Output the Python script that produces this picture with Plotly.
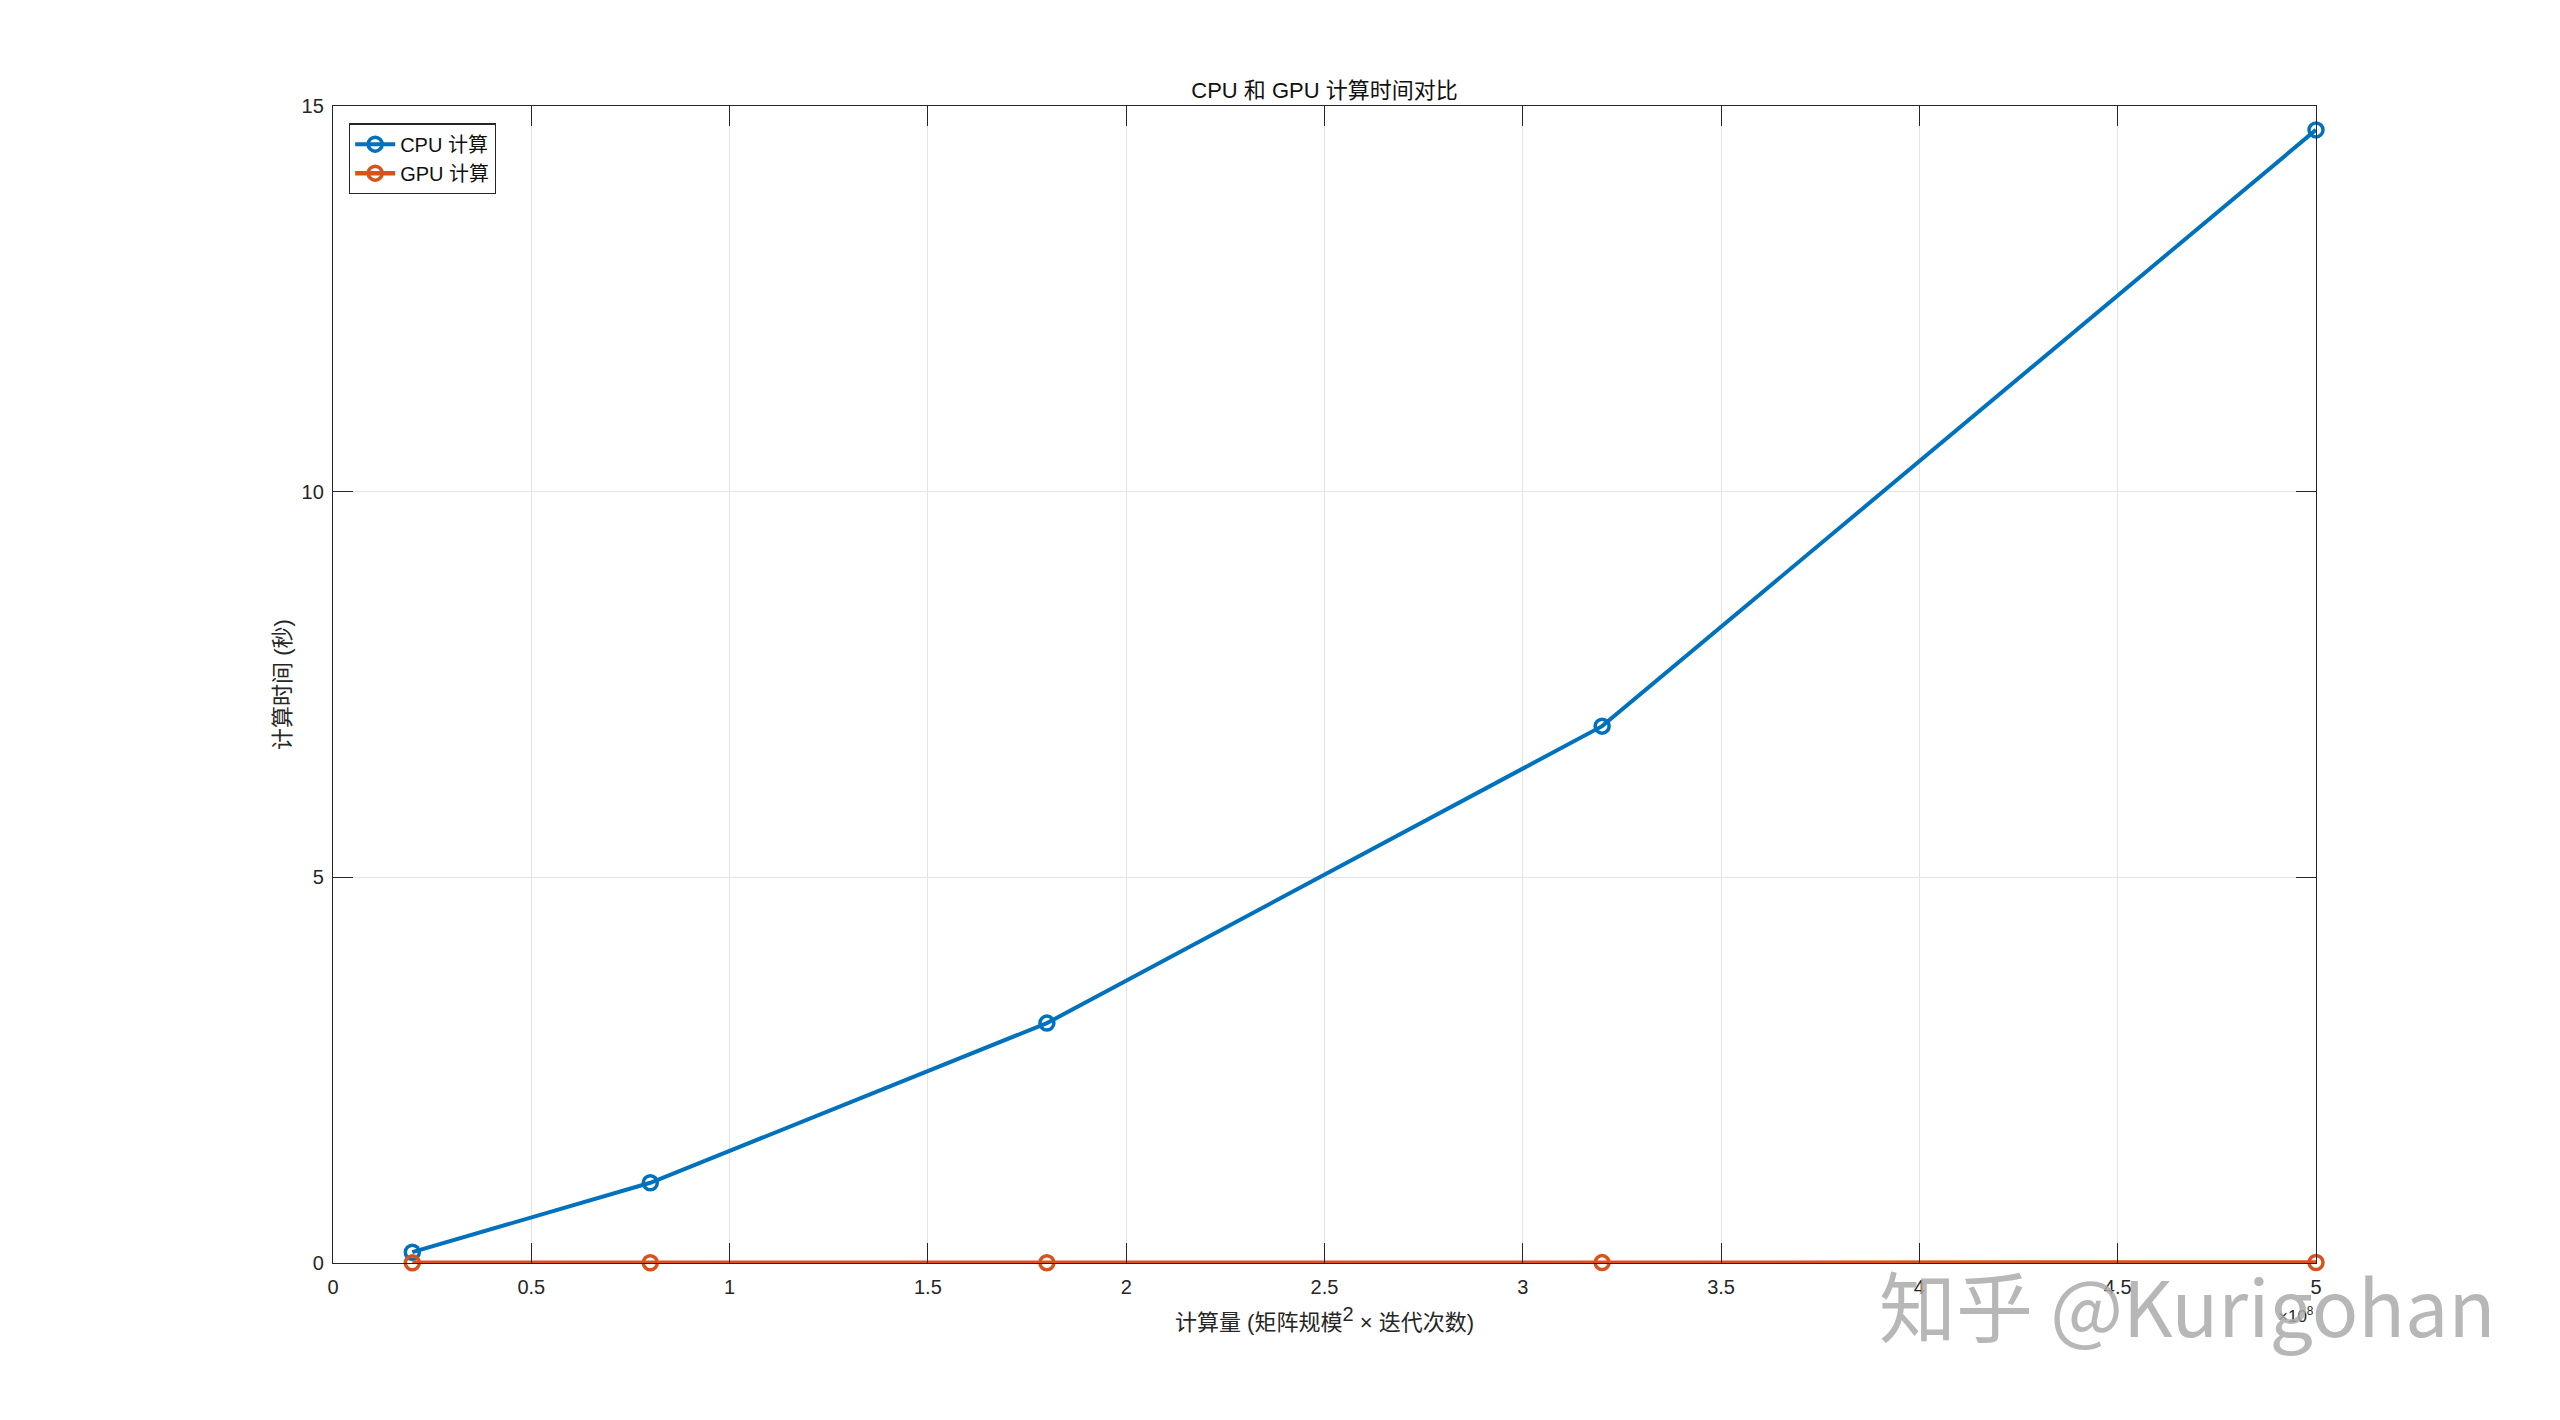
import plotly.graph_objects as go

# Data (x in raw units: matrix size^2 * iterations)
work = [2e7, 8e7, 1.8e8, 3.2e8, 5e8]
cpu_time = [0.14, 1.04, 3.11, 6.96, 14.69]
gpu_time = [0.002, 0.003, 0.004, 0.005, 0.006]

x_tickvals = [0, 0.5e8, 1e8, 1.5e8, 2e8, 2.5e8, 3e8, 3.5e8, 4e8, 4.5e8, 5e8]
x_ticktext = ["0", "0.5", "1", "1.5", "2", "2.5", "3", "3.5", "4", "4.5", "5"]
y_tickvals = [0, 5, 10, 15]
y_ticktext = ["0", "5", "10", "15"]

FONT = "Liberation Sans, Arial, Noto Sans CJK SC, sans-serif"
BLUE = "#0072BD"
ORANGE = "#D95319"

fig = go.Figure()
fig.add_trace(go.Scatter(
    x=work, y=cpu_time, mode="lines+markers", name="CPU 计算",
    line=dict(color=BLUE, width=4),
    marker=dict(symbol="circle-open", size=14, color=BLUE, line=dict(width=3.5, color=BLUE)),
    cliponaxis=False,
))
fig.add_trace(go.Scatter(
    x=work, y=gpu_time, mode="lines+markers", name="GPU 计算",
    line=dict(color=ORANGE, width=4.5),
    marker=dict(symbol="circle-open", size=14, color=ORANGE, line=dict(width=3.5, color=ORANGE)),
    cliponaxis=False,
))

axis_common = dict(
    showline=True, linecolor="#262626", linewidth=1.3, mirror="ticks",
    ticks="inside", ticklen=20, tickwidth=1.3, tickcolor="#262626",
    showgrid=True, gridcolor="#e3e3e3", gridwidth=1.3, zeroline=False,
    tickfont=dict(family=FONT, size=20, color="#262626"),
)

fig.update_layout(
    width=2560, height=1420,
    margin=dict(l=333, r=244, t=106, b=157),
    paper_bgcolor="white", plot_bgcolor="white",
    font=dict(family=FONT, color="#262626"),
    title=dict(text="CPU 和 GPU 计算时间对比", x=0.5, xanchor="center",
               xref="paper", y=1 - 90/1420, yanchor="middle",
               font=dict(family=FONT, size=22, color="#111111")),
    xaxis=dict(range=[0, 5e8], tickvals=x_tickvals, ticktext=x_ticktext,
               ticklabelstandoff=6,
               title=dict(text="计算量 (矩阵规模<sup><span style='font-size:20px'>2</span></sup> × 迭代次数)",
                          standoff=17,
                          font=dict(family=FONT, size=22, color="#262626")),
               **axis_common),
    yaxis=dict(range=[0, 15], tickvals=y_tickvals, ticktext=y_ticktext,
               ticklabelstandoff=4,
               title=dict(text="计算时间 (秒)", standoff=4,
                          font=dict(family=FONT, size=22, color="#262626")),
               **axis_common),
    legend=dict(x=0.008, y=0.985, xanchor="left", yanchor="top",
                bgcolor="white", bordercolor="#262626", borderwidth=1.3,
                font=dict(family=FONT, size=20, color="#111111"),
                itemwidth=40, tracegroupgap=0),
    showlegend=True,
)

# MATLAB-style exponent label
fig.add_annotation(text="×10<sup>8</sup>", xref="paper", yref="paper",
                   x=1.0, y=-52/1157, xanchor="right", yanchor="middle",
                   showarrow=False, font=dict(family=FONT, size=17, color="#262626"))

# Watermark
fig.add_annotation(text="知乎 @Kurigohan", xref="paper", yref="paper",
                   x=(2497-333)/1983, y=-(1303-1263)/1157, xanchor="right", yanchor="middle",
                   showarrow=False,
                   font=dict(family="Noto Sans CJK SC, sans-serif", size=77, color="rgba(170,170,170,0.85)"))

fig.write_html("out.html")
